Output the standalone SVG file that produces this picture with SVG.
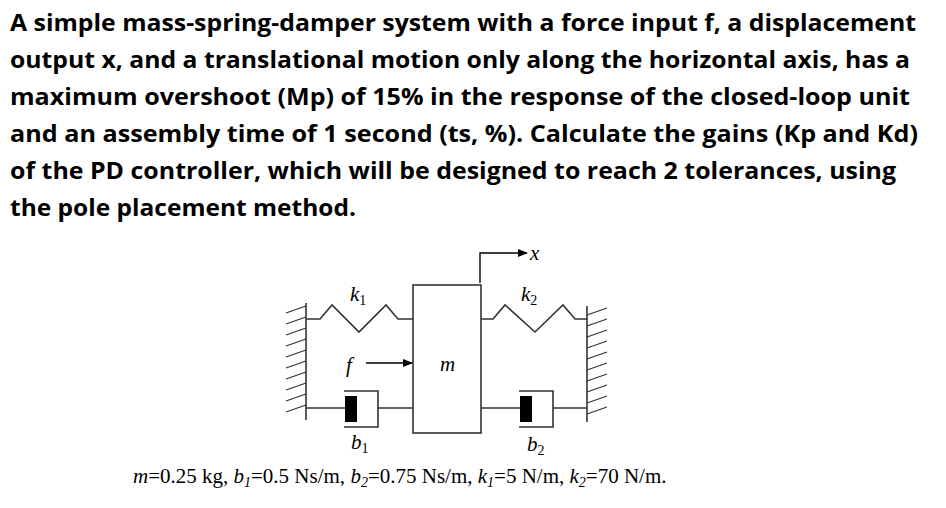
<svg xmlns="http://www.w3.org/2000/svg" width="946" height="508" viewBox="0 0 946 508">
<style>
.h{font-family:"Open Sans","Liberation Sans",sans-serif;font-weight:bold;font-size:23px;fill:#000}
.m{font-family:"Liberation Serif",serif;font-style:italic;font-size:21px;fill:#000}
.c{font-family:"Liberation Serif",serif;font-size:21px;fill:#000}
.ln{stroke:#333;stroke-width:1.6;fill:none}
.ht{stroke:#333;stroke-width:1.2}
</style>
<defs>
<marker id="ar" markerWidth="10" markerHeight="8" refX="9" refY="4" orient="auto" markerUnits="userSpaceOnUse"><path d="M0,0 L10,4 L0,8 Z" fill="#000"/></marker>
</defs>
<rect width="946" height="508" fill="#fff"/>
<g id="question">
<text class="h" x="10" y="31" textLength="906" lengthAdjust="spacingAndGlyphs">A simple mass-spring-damper system with a force input f, a displacement</text>
<text class="h" x="10" y="68" textLength="900" lengthAdjust="spacingAndGlyphs">output x, and a translational motion only along the horizontal axis, has a</text>
<text class="h" x="10" y="105" textLength="900" lengthAdjust="spacingAndGlyphs">maximum overshoot (Mp) of 15% in the response of the closed-loop unit</text>
<text class="h" x="10" y="142" textLength="908" lengthAdjust="spacingAndGlyphs">and an assembly time of 1 second (ts, %). Calculate the gains (Kp and Kd)</text>
<text class="h" x="10" y="179" textLength="886" lengthAdjust="spacingAndGlyphs">of the PD controller, which will be designed to reach 2 tolerances, using</text>
<text class="h" x="10" y="216" textLength="346" lengthAdjust="spacingAndGlyphs">the pole placement method.</text>
</g>
<g id="left-wall">
<line class="ln" x1="306" y1="303" x2="306" y2="420"/>
<g class="ht">
<line x1="306" y1="306" x2="286" y2="313"/><line x1="306" y1="317" x2="286" y2="324"/><line x1="306" y1="328" x2="286" y2="335"/><line x1="306" y1="339" x2="286" y2="346"/><line x1="306" y1="350" x2="286" y2="357"/><line x1="306" y1="361" x2="286" y2="368"/><line x1="306" y1="372" x2="286" y2="379"/><line x1="306" y1="383" x2="286" y2="390"/><line x1="306" y1="394" x2="286" y2="401"/><line x1="306" y1="405" x2="286" y2="412"/>
</g>
</g>
<g id="right-wall">
<line class="ln" x1="587" y1="306" x2="587" y2="422"/>
<g class="ht">
<line x1="587" y1="315" x2="607" y2="308"/><line x1="587" y1="326" x2="607" y2="319"/><line x1="587" y1="337" x2="607" y2="330"/><line x1="587" y1="348" x2="607" y2="341"/><line x1="587" y1="359" x2="607" y2="352"/><line x1="587" y1="370" x2="607" y2="363"/><line x1="587" y1="381" x2="607" y2="374"/><line x1="587" y1="392" x2="607" y2="385"/><line x1="587" y1="403" x2="607" y2="396"/><line x1="587" y1="414" x2="607" y2="407"/>
</g>
</g>
<g id="mass">
<rect class="ln" x="413" y="285" width="68" height="148"/>
<text class="m" x="440" y="371">m</text>
</g>
<g id="connectors">
<polyline id="k1" class="ln" points="306,319 320,319 332,305 359,332 386,305 398,319 413,319"/>
<polyline id="k2" class="ln" points="481,319 493,319 505,305 535,332 563,305 575,319 587,319"/>
<g id="b1">
<line class="ln" x1="306" y1="408" x2="345" y2="408"/>
<polyline class="ln" points="344,391 378,391 378,427 344,427"/>
<rect x="345" y="396" width="12" height="26" fill="#000"/>
<line class="ln" x1="378" y1="408" x2="413" y2="408"/>
</g>
<g id="b2">
<line class="ln" x1="481" y1="408" x2="520" y2="408"/>
<polyline class="ln" points="519,391 553,391 553,427 519,427"/>
<rect x="520" y="396" width="12" height="26" fill="#000"/>
<line class="ln" x1="553" y1="408" x2="587" y2="408"/>
</g>
<line id="f-arrow" x1="366" y1="363" x2="412" y2="363" stroke="#000" stroke-width="1.4" marker-end="url(#ar)"/>
<polyline id="x-arrow" points="480,283 480,253 527,253" fill="none" stroke="#000" stroke-width="1.4" marker-end="url(#ar)"/>
</g>
<g id="labels">
<text class="m" x="346" y="372">f</text>
<text class="m" x="530" y="260">x</text>
<text class="m" x="350" y="301">k<tspan font-style="normal" font-size="14" dy="4">1</tspan></text>
<text class="m" x="521" y="301">k<tspan font-style="normal" font-size="14" dy="4">2</tspan></text>
<text class="m" x="351" y="449">b<tspan font-style="normal" font-size="14" dy="4">1</tspan></text>
<text class="m" x="527" y="451">b<tspan font-style="normal" font-size="14" dy="4">2</tspan></text>
</g>
<g id="caption">
<text class="c" x="133" y="483"><tspan font-style="italic">m</tspan>=0.25 kg, <tspan font-style="italic">b</tspan><tspan font-size="14" font-style="italic" dy="4">1</tspan><tspan dy="-4">=0.5 Ns/m, </tspan><tspan font-style="italic">b</tspan><tspan font-size="14" font-style="italic" dy="4">2</tspan><tspan dy="-4">=0.75 Ns/m, </tspan><tspan font-style="italic">k</tspan><tspan font-size="14" font-style="italic" dy="4">1</tspan><tspan dy="-4">=5 N/m, </tspan><tspan font-style="italic">k</tspan><tspan font-size="14" font-style="italic" dy="4">2</tspan><tspan dy="-4">=70 N/m.</tspan></text>
</g>
</svg>
